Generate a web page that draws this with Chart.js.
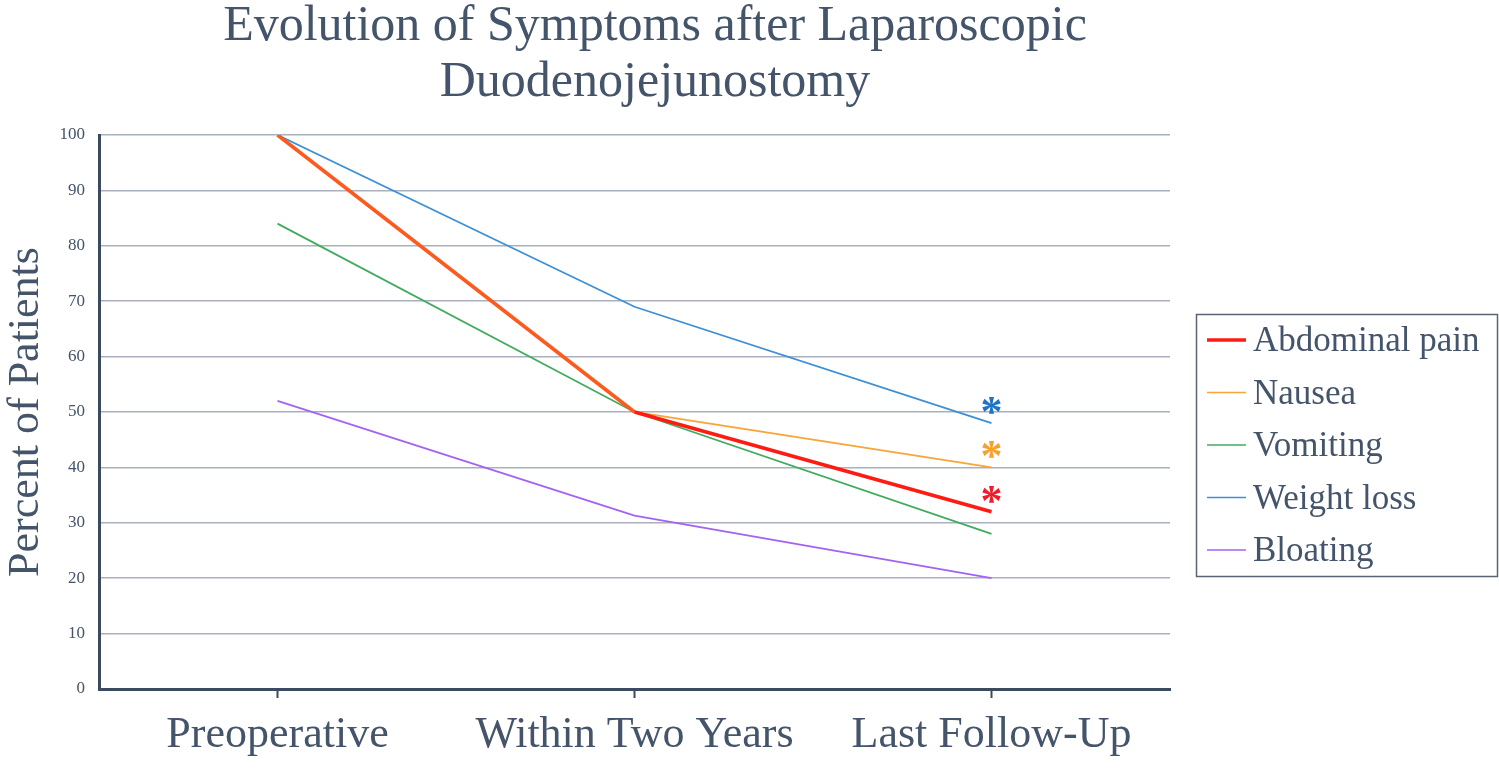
<!DOCTYPE html>
<html>
<head>
<meta charset="utf-8">
<script src="https://cdn.jsdelivr.net/npm/chart.js@4.4.1/dist/chart.umd.min.js"></script>
<style>
  html, body { margin: 0; padding: 0; background: #ffffff; }
  #wrap { width: 1499px; height: 771px; position: relative; }
</style>
</head>
<body>
<div id="wrap"><canvas id="c"></canvas></div>
<script>
// ---- data ----
const categories = ['Preoperative', 'Within Two Years', 'Last Follow-Up'];
const abdominalPain = [100, 50, 32];
const nausea = [100, 50, 40];
const vomiting = [84, 50, 28];
const weightLoss = [100, 69, 48];
const bloating = [52, 31.3, 20];
const seriesLabels = ['Abdominal pain', 'Nausea', 'Vomiting', 'Weight loss', 'Bloating'];
const yTickValues = [0, 10, 20, 30, 40, 50, 60, 70, 80, 90, 100];
const titleLines = ['Evolution of Symptoms after Laparoscopic', 'Duodenojejunostomy'];
const yAxisTitle = 'Percent of Patients';
// series marked with an asterisk at the last follow-up
const significantSeries = ['Weight loss', 'Nausea', 'Abdominal pain'];

// ---- styles ----
const TEXT = '#44546a';
const AXIS = '#3b4a5e';
const GRID = '#aab0be';
const SERIF = '"Liberation Serif", "Times New Roman", serif';
const colors = {
  'Abdominal pain': '#ff1a12',
  'Nausea': '#f9a53a',
  'Vomiting': '#42ab5e',
  'Weight loss': '#3d90d6',
  'Bloating': '#a462f2'
};
const starColors = {
  'Abdominal pain': '#f01c2a',
  'Nausea': '#f7a02a',
  'Weight loss': '#1f74c6'
};
const widths = { 'Abdominal pain': 3.6, 'Nausea': 1.8, 'Vomiting': 1.8, 'Weight loss': 1.8, 'Bloating': 1.8 };
const seriesData = [abdominalPain, nausea, vomiting, weightLoss, bloating];

const PAD_LEFT = 0, PAD_TOP = 135, PAD_RIGHT = 329, PAD_BOTTOM = 2;

const datasets = seriesLabels.map((lab, i) => ({
  label: lab,
  data: seriesData[i],
  borderColor: colors[lab],
  backgroundColor: colors[lab],
  borderWidth: widths[lab],
  pointRadius: 0,
  pointHoverRadius: 0,
  tension: 0,
  fill: false,
  order: lab === 'Abdominal pain' ? 0 : (lab === 'Vomiting' ? 2 : 1),
  segment: lab === 'Abdominal pain' ? {
    borderColor: ctx => ctx.p0DataIndex === 0 ? '#fb5b1f' : undefined
  } : undefined
}));

const titlePlugin = {
  id: 'titleDraw',
  afterDraw(chart) {
    const ctx = chart.ctx;
    ctx.save();
    ctx.fillStyle = TEXT;
    ctx.font = '50px ' + SERIF;
    ctx.textAlign = 'center';
    ctx.textBaseline = 'alphabetic';
    const cx = 655;
    ctx.fillText(titleLines[0], cx, 40);
    ctx.fillText(titleLines[1], cx, 96);
    ctx.restore();
  }
};

const legendPlugin = {
  id: 'boxLegend',
  afterDraw(chart) {
    const ctx = chart.ctx;
    const left = chart.chartArea.right + 26;
    const top = 314, w = 301, h = 262;
    ctx.save();
    ctx.strokeStyle = '#5a6474';
    ctx.lineWidth = 1.5;
    ctx.strokeRect(left + 0.5, top + 0.5, w, h);
    ctx.font = '35px ' + SERIF;
    ctx.textBaseline = 'alphabetic';
    ctx.textAlign = 'left';
    chart.data.datasets.forEach((ds, i) => {
      const y = top + 26 + i * 52.5;
      ctx.strokeStyle = ds.borderColor;
      ctx.lineWidth = ds.label === 'Abdominal pain' ? 3.4 : 1.6;
      ctx.beginPath();
      ctx.moveTo(left + 11, y);
      ctx.lineTo(left + 50, y);
      ctx.stroke();
      ctx.fillStyle = TEXT;
      ctx.fillText(ds.label, left + 57, y + 11);
    });
    ctx.restore();
  }
};

const starPlugin = {
  id: 'stars',
  afterDatasetsDraw(chart) {
    const ctx = chart.ctx;
    const xs = chart.scales.x, ys = chart.scales.y;
    const last = categories.length - 1;
    ctx.save();
    ctx.font = 'bold 44px ' + SERIF;
    ctx.textAlign = 'center';
    ctx.textBaseline = 'alphabetic';
    significantSeries.forEach(lab => {
      const idx = seriesLabels.indexOf(lab);
      const v = seriesData[idx][last];
      const px = xs.getPixelForValue(last);
      const py = ys.getPixelForValue(v);
      ctx.fillStyle = starColors[lab];
      ctx.fillText('*', px, py + 3);
    });
    ctx.restore();
  }
};

new Chart(document.getElementById('c'), {
  type: 'line',
  data: { labels: categories, datasets },
  options: {
    responsive: true,
    maintainAspectRatio: false,
    animation: false,
    devicePixelRatio: 1,
    layout: { padding: { left: PAD_LEFT, top: PAD_TOP, right: PAD_RIGHT, bottom: PAD_BOTTOM } },
    plugins: {
      legend: { display: false },
      title: { display: false },
      tooltip: { enabled: false }
    },
    scales: {
      x: {
        offset: true,
        grid: {
          offset: false,
          drawOnChartArea: false,
          drawTicks: true,
          tickLength: 9,
          tickWidth: 2,
          tickColor: AXIS
        },
        border: { display: true, color: AXIS, width: 3 },
        ticks: {
          color: TEXT,
          font: { family: SERIF, size: 44 },
          padding: 11,
          maxRotation: 0,
          autoSkip: false
        },
        afterFit(scale) { scale.height = 771 - 689 - PAD_BOTTOM; }
      },
      y: {
        min: 0,
        max: 100,
        afterBuildTicks(scale) { scale.ticks = yTickValues.map(v => ({ value: v })); },
        grid: {
          color: GRID,
          lineWidth: 1.6,
          drawTicks: false
        },
        border: { display: true, color: AXIS, width: 3 },
        ticks: {
          color: TEXT,
          font: { family: SERIF, size: 17 },
          padding: 14
        },
        title: {
          display: true,
          text: yAxisTitle,
          color: TEXT,
          font: { family: SERIF, size: 44 },
          padding: { top: 0, bottom: 0 }
        },
        afterFit(scale) { scale.width = 99 - PAD_LEFT; }
      }
    }
  },
  plugins: [titlePlugin, legendPlugin, starPlugin]
});
</script>
</body>
</html>
